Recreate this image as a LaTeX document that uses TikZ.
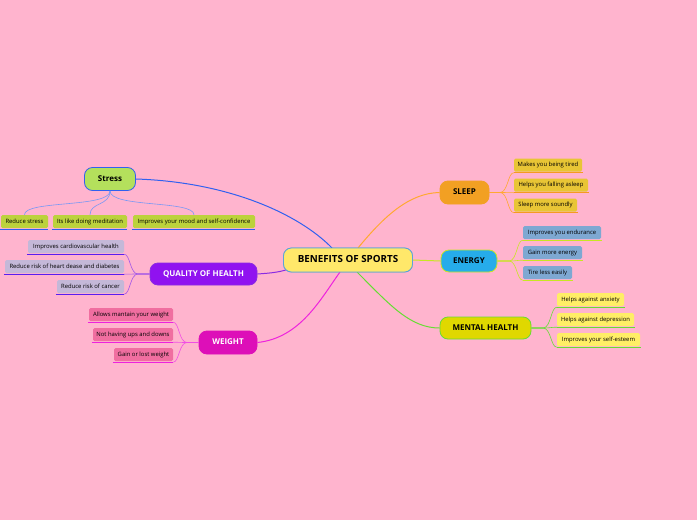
\documentclass[tikz,border=0pt]{standalone}
\usepackage{fontspec}
\setmainfont{Open Sans}
\definecolor{bg}{HTML}{FFB4CE}
\definecolor{cfill}{HTML}{FFE86A}
\definecolor{cbord}{HTML}{5BA3D9}
\definecolor{stfill}{HTML}{B4E05C}
\definecolor{stline}{HTML}{3060F0}
\definecolor{stchild}{HTML}{BCD23C}
\definecolor{qfill}{HTML}{9012F0}
\definecolor{qline}{HTML}{8A2BE2}
\definecolor{qchild}{HTML}{C4B8D8}
\definecolor{qunder}{HTML}{5A1EF0}
\definecolor{wfill}{HTML}{DD0FB8}
\definecolor{wline}{HTML}{EE22DD}
\definecolor{wchild}{HTML}{F06EA0}
\definecolor{sfill}{HTML}{F2A023}
\definecolor{sline}{HTML}{FFA830}
\definecolor{schild}{HTML}{E8C535}
\definecolor{sunder}{HTML}{F59A20}
\definecolor{efill}{HTML}{26ACEA}
\definecolor{eline}{HTML}{C8E622}
\definecolor{echild}{HTML}{7EA8D2}
\definecolor{mfill}{HTML}{E0D800}
\definecolor{mline}{HTML}{66DD33}
\definecolor{mchild}{HTML}{FFEE66}
\tikzset{
  mainbox/.style={rounded corners=8pt, line width=0.8pt, font=\fontsize{8}{9}\selectfont\bfseries, inner sep=0pt, text height=6pt, text depth=1.5pt},
  childbox/.style={rounded corners=1.5pt, font=\fontsize{5.9}{6}\selectfont, inner sep=0pt, text height=4.6pt, text depth=1.2pt, anchor=center},
  conn/.style={line width=0.6pt},
  uline/.style={line width=1pt},
}
\newcommand{\child}[6]{% name, x1, x2, ycenter, fill, text
  \node[childbox, fill=#5, minimum width=#3-#2, minimum height=13pt] (#1) at ({(#2+#3)/2},#4) {#6};
}
\begin{document}
\begin{tikzpicture}[x=1pt,y=-1pt]
\fill[bg] (0,0) rectangle (697,520);
\useasboundingbox (0,0) rectangle (697,520);

% central (drawn first for its anchors, redrawn over connectors)
\node[mainbox, fill=cfill, draw=cbord, minimum width=129pt, minimum height=24pt, font=\fontsize{9.8}{11}\selectfont\bfseries, text height=7pt] (c) at (348,260) {BENEFITS OF SPORTS};

% main nodes
\node[mainbox, fill=stfill, draw=stline, minimum width=51pt, minimum height=23pt] (st) at (110,179) {Stress};
\node[mainbox, fill=qfill, draw=qline, text=white, minimum width=107pt, minimum height=22pt] (q) at (203.5,274) {QUALITY OF HEALTH};
\node[mainbox, fill=wfill, draw=wfill, text=white, minimum width=58pt, minimum height=23pt] (w) at (228,342.5) {WEIGHT};
\node[mainbox, fill=sfill, draw=sfill, minimum width=49pt, minimum height=23pt] (s) at (464.5,192.5) {SLEEP};
\node[mainbox, fill=efill, draw=eline, minimum width=56pt, minimum height=22pt] (e) at (469,261) {ENERGY};
\node[mainbox, fill=mfill, draw=mline, minimum width=91pt, minimum height=22pt] (m) at (485.5,328) {MENTAL HEALTH};

% center connectors
\draw[stline, line width=1pt] (st.east) .. controls (230,182) and (300,215) .. (332,248);
\draw[qline, line width=1pt] (q.east) .. controls (272,273) and (282,272) .. (291,268);
\draw[wline, line width=1pt] (w.east) .. controls (300,338) and (320,300) .. (340,272);
\draw[sline, line width=1pt] (358,248) .. controls (385,215) and (410,193) .. (s.west);
\draw[eline, line width=1pt] (c.east) -- (e.west);
\draw[mline, line width=1pt] (357,272) .. controls (390,305) and (410,328) .. (m.west);
\node[mainbox, fill=cfill, draw=cbord, minimum width=129pt, minimum height=24pt, font=\fontsize{9.8}{11}\selectfont\bfseries, text height=7pt] (c2) at (c) {BENEFITS OF SPORTS};

% stress children
\child{st1}{1}{48}{221.5}{stchild}{Reduce stress}
\child{st2}{53}{127}{221.5}{stchild}{Its like doing meditation}
\child{st3}{133}{255}{221.5}{stchild}{Improves your mood and self-confidence}
\foreach \n in {st1,st2,st3}{
  \draw[stline, uline] ([xshift=-1pt,yshift=-1pt]\n.south west) -- ([yshift=-1pt]\n.south east);
}
\draw[stline!65, conn] (st.south) .. controls (110,208) and (24,200) .. (st1.north);
\draw[stline!65, conn] (st.south) .. controls (110,206) and (90,202) .. (st2.north);
\draw[stline!65, conn] (st.south) .. controls (110,208) and (194,200) .. (st3.north);

% quality children
\child{q1}{28}{124}{246.5}{qchild}{Improves cardiovascular health}
\child{q2}{5}{124}{266.5}{qchild}{Reduce risk of heart dease and diabetes}
\child{q3}{57}{124}{286.5}{qchild}{Reduce risk of cancer}
\foreach \n in {q1,q2,q3}{
  \draw[qunder, uline] ([xshift=-1pt,yshift=-1pt]\n.south west) -- ([yshift=-1pt]\n.south east);
  \draw[qline!80, conn] (q.west) -- (138,274) .. controls +(-8,0) and +(6,0) .. ([yshift=-1pt]\n.south east);
}

% weight children
\child{w1}{89}{173}{314.5}{wchild}{Allows mantain your weight}
\child{w2}{93}{173}{334.5}{wchild}{Not having ups and downs}
\child{w3}{114}{173}{354.5}{wchild}{Gain or lost weight}
\foreach \n in {w1,w2,w3}{
  \draw[wline, uline] ([xshift=-1pt,yshift=-1pt]\n.south west) -- ([yshift=-1pt]\n.south east);
  \draw[wline!80, conn] (w.west) -- (187,342.5) .. controls +(-8,0) and +(6,0) .. ([yshift=-1pt]\n.south east);
}

% sleep children
\child{s1}{514}{582}{165}{schild}{Makes you being tired}
\child{s2}{514}{588}{185}{schild}{Helps you falling asleep}
\child{s3}{514}{577}{205}{schild}{Sleep more soundly}
\foreach \n in {s1,s2,s3}{
  \draw[sunder, uline] ([yshift=-1pt]\n.south west) -- ([xshift=1pt,yshift=-1pt]\n.south east);
  \draw[sline, conn] (s.east) -- (500,192.5) .. controls +(8,0) and +(-6,0) .. ([yshift=-1pt]\n.south west);
}

% energy children
\child{e1}{523}{601}{232.5}{echild}{Improves you endurance}
\child{e2}{523}{582}{252.5}{echild}{Gain more energy}
\child{e3}{523}{572}{272.5}{echild}{Tire less easily}
\foreach \n in {e1,e2,e3}{
  \draw[eline, uline] ([yshift=-1pt]\n.south west) -- ([xshift=1pt,yshift=-1pt]\n.south east);
  \draw[eline, conn] (e.east) -- (509,261) .. controls +(8,0) and +(-6,0) .. ([yshift=-1pt]\n.south west);
}

% mental children
\child{m1}{557}{624}{299.5}{mchild}{Helps against anxiety}
\child{m2}{557}{634}{319.5}{mchild}{Helps against depression}
\child{m3}{557}{640}{339.5}{mchild}{Improves your self-esteem}
\foreach \n in {m1,m2,m3}{
  \draw[mline, uline] ([yshift=-1pt]\n.south west) -- ([xshift=1pt,yshift=-1pt]\n.south east);
  \draw[mline, conn] (m.east) -- (543,328) .. controls +(8,0) and +(-6,0) .. ([yshift=-1pt]\n.south west);
}
\end{tikzpicture}
\end{document}
